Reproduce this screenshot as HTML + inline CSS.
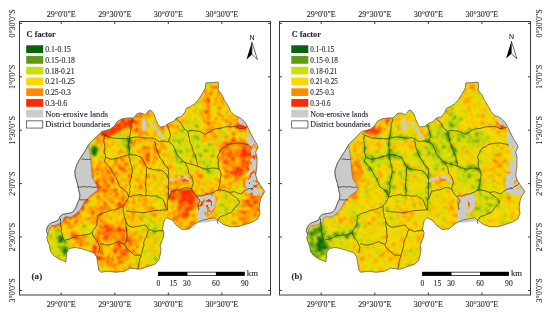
<!DOCTYPE html>
<html><head><meta charset="utf-8"><style>
html,body{margin:0;padding:0;background:#fff;overflow:hidden;}
svg{display:block;}
text{font-family:"Liberation Serif",serif;fill:#2a2a36;stroke:#2a2a36;stroke-width:0.12px;}
.k{stroke:#3a3a3a;stroke-width:1;}
.ax{font-size:7.6px;}
.lt{font-size:8.2px;font-weight:bold;}
.lg{font-size:7.6px;}
.na{font-family:"Liberation Sans",sans-serif;font-size:7px;}
.sc{font-size:7.6px;}
.lab{font-size:8.4px;font-weight:bold;}
</style></head><body>
<svg width="550" height="315" viewBox="0 0 550 315">
<defs>
<filter id="holesa" x="0" y="0" width="550" height="315" filterUnits="userSpaceOnUse" color-interpolation-filters="sRGB">
<feTurbulence type="fractalNoise" baseFrequency="0.28 0.2" numOctaves="2" seed="5"/>
<feColorMatrix type="matrix" values="1 0 0 0 0  1 0 0 0 0  1 0 0 0 0  0 0 0 0 1"/>
<feComponentTransfer><feFuncR type="discrete" tableValues="1 1 1 1 1 1 1 0 0 0 1 1"/><feFuncG type="discrete" tableValues="1 1 1 1 1 1 1 0 0 0 1 1"/><feFuncB type="discrete" tableValues="1 1 1 1 1 1 1 0 0 0 1 1"/></feComponentTransfer>
<feGaussianBlur stdDeviation="0.4"/>
</filter>
<filter id="holesb" x="0" y="0" width="550" height="315" filterUnits="userSpaceOnUse" color-interpolation-filters="sRGB">
<feTurbulence type="fractalNoise" baseFrequency="0.28 0.2" numOctaves="2" seed="9"/>
<feColorMatrix type="matrix" values="1 0 0 0 0  1 0 0 0 0  1 0 0 0 0  0 0 0 0 1"/>
<feComponentTransfer><feFuncR type="discrete" tableValues="1 1 1 1 1 1 1 1 0 0 1 1"/><feFuncG type="discrete" tableValues="1 1 1 1 1 1 1 1 0 0 1 1"/><feFuncB type="discrete" tableValues="1 1 1 1 1 1 1 1 0 0 1 1"/></feComponentTransfer>
<feGaussianBlur stdDeviation="0.4"/>
</filter>
<mask id="mha" maskUnits="userSpaceOnUse" x="0" y="0" width="550" height="315"><rect x="0" y="0" width="550" height="315" fill="#fff" filter="url(#holesa)"/></mask>
<mask id="mhb" maskUnits="userSpaceOnUse" x="0" y="0" width="550" height="315"><rect x="0" y="0" width="550" height="315" fill="#fff" filter="url(#holesb)"/></mask>
<clipPath id="clipfa"><polygon points="205.9,82.9 211.7,82.6 218.1,82.1 218.6,85.3 218.1,90.0 222.0,94.8 224.4,100.4 227.6,105.2 229.0,107.6 230.8,111.5 234.8,115.5 237.9,116.5 241.7,119.0 245.5,122.8 248.1,127.9 250.6,133.0 253.1,138.1 257.0,144.4 258.2,147.0 255.7,152.0 257.0,157.1 257.0,166.0 255.7,174.9 257.2,180.2 260.4,185.2 264.8,191.6 262.3,195.4 260.4,199.2 259.8,203.0 259.1,208.1 260.0,213.3 257.8,218.9 252.2,222.2 245.6,224.4 237.8,226.7 230.0,226.7 223.3,224.4 218.9,221.1 214.4,217.8 208.9,218.9 203.3,220.0 197.8,222.2 194.4,224.4 188.9,228.9 182.2,229.6 176.7,225.6 172.2,220.0 166.7,217.8 164.4,220.0 163.3,224.8 162.5,229.5 164.1,232.7 163.3,237.5 161.7,241.4 160.2,245.4 161.0,249.4 160.2,254.9 158.6,260.5 154.6,264.4 149.0,266.0 145.1,267.6 139.5,269.2 130.7,268.1 124.5,271.2 116.3,272.3 108.0,271.2 100.8,272.3 98.8,270.2 97.7,263.0 96.7,256.8 93.6,252.7 87.4,250.6 81.2,248.6 75.0,247.5 68.9,248.6 66.8,252.7 65.8,262.0 63.7,260.9 58.6,258.9 53.3,255.2 50.5,251.4 49.5,245.7 47.6,241.0 46.7,238.1 47.9,234.3 46.4,231.4 47.1,227.9 48.6,225.0 51.4,222.9 55.7,221.4 58.6,220.0 60.0,216.4 62.9,214.3 67.1,213.6 70.7,212.9 73.6,211.4 75.7,207.9 77.9,202.1 79.3,199.3 80.0,195.0 79.0,191.4 77.5,183.8 75.2,176.2 74.9,170.5 77.1,163.8 81.0,157.1 84.8,151.4 88.6,144.8 89.8,143.3 92.2,141.0 95.4,137.8 99.4,133.8 101.7,131.4 105.7,130.6 110.5,129.0 114.4,125.9 117.6,121.1 120.8,119.5 122.9,118.6 128.6,117.9 132.9,117.9 135.0,116.4 137.1,113.6 140.0,112.9 142.9,113.6 145.0,115.0 146.4,113.6 147.9,111.4 150.0,110.0 152.1,111.4 154.3,115.0 155.7,119.3 157.9,124.3 160.0,127.1 162.9,126.7 165.7,125.7 169.3,122.9 173.6,121.4 175.7,118.6 178.6,117.1 180.8,117.0 182.9,115.0 184.8,112.3 186.3,108.3 190.0,106.8 195.0,103.5 198.5,99.5 201.0,95.5 203.8,90.9 205.4,87.7"/></clipPath>
<clipPath id="clipfb"><polygon points="465.9,82.9 471.7,82.6 478.1,82.1 478.6,85.3 478.1,90.0 482.0,94.8 484.4,100.4 487.6,105.2 489.0,107.6 490.8,111.5 494.8,115.5 497.9,116.5 501.7,119.0 505.5,122.8 508.1,127.9 510.6,133.0 513.1,138.1 517.0,144.4 518.2,147.0 515.7,152.0 517.0,157.1 517.0,166.0 515.7,174.9 517.2,180.2 520.4,185.2 524.8,191.6 522.3,195.4 520.4,199.2 519.8,203.0 519.1,208.1 520.0,213.3 517.8,218.9 512.2,222.2 505.6,224.4 497.8,226.7 490.0,226.7 483.3,224.4 478.9,221.1 474.4,217.8 468.9,218.9 463.3,220.0 457.8,222.2 454.4,224.4 448.9,228.9 442.2,229.6 436.7,225.6 432.2,220.0 426.7,217.8 424.4,220.0 423.3,224.8 422.5,229.5 424.1,232.7 423.3,237.5 421.7,241.4 420.2,245.4 421.0,249.4 420.2,254.9 418.6,260.5 414.6,264.4 409.0,266.0 405.1,267.6 399.5,269.2 390.7,268.1 384.5,271.2 376.3,272.3 368.0,271.2 360.8,272.3 358.8,270.2 357.7,263.0 356.7,256.8 353.6,252.7 347.4,250.6 341.2,248.6 335.0,247.5 328.9,248.6 326.8,252.7 325.8,262.0 323.7,260.9 318.6,258.9 313.3,255.2 310.5,251.4 309.5,245.7 307.6,241.0 306.7,238.1 307.9,234.3 306.4,231.4 307.1,227.9 308.6,225.0 311.4,222.9 315.7,221.4 318.6,220.0 320.0,216.4 322.9,214.3 327.1,213.6 330.7,212.9 333.6,211.4 335.7,207.9 337.9,202.1 339.3,199.3 340.0,195.0 339.0,191.4 337.5,183.8 335.2,176.2 334.9,170.5 337.1,163.8 341.0,157.1 344.8,151.4 348.6,144.8 349.8,143.3 352.2,141.0 355.4,137.8 359.4,133.8 361.7,131.4 365.7,130.6 370.5,129.0 374.4,125.9 377.6,121.1 380.8,119.5 382.9,118.6 388.6,117.9 392.9,117.9 395.0,116.4 397.1,113.6 400.0,112.9 402.9,113.6 405.0,115.0 406.4,113.6 407.9,111.4 410.0,110.0 412.1,111.4 414.3,115.0 415.7,119.3 417.9,124.3 420.0,127.1 422.9,126.7 425.7,125.7 429.3,122.9 433.6,121.4 435.7,118.6 438.6,117.1 440.8,117.0 442.9,115.0 444.8,112.3 446.3,108.3 450.0,106.8 455.0,103.5 458.5,99.5 461.0,95.5 463.8,90.9 465.4,87.7"/></clipPath>
<filter id="fa" x="0" y="0" width="550" height="315" filterUnits="userSpaceOnUse" color-interpolation-filters="sRGB">
<feGaussianBlur in="SourceGraphic" stdDeviation="1.6" result="s"/>
<feTurbulence type="fractalNoise" baseFrequency="0.28" numOctaves="2" seed="3" result="t"/>
<feColorMatrix in="t" type="matrix" values="1 0 0 0 0  1 0 0 0 0  1 0 0 0 0  0 0 0 0 1" result="tn"/>
<feTurbulence type="fractalNoise" baseFrequency="0.06" numOctaves="2" seed="14" result="t2"/>
<feColorMatrix in="t2" type="matrix" values="0 1 0 0 0  0 1 0 0 0  0 1 0 0 0  0 0 0 0 1" result="tn2"/>
<feTurbulence type="fractalNoise" baseFrequency="0.7" numOctaves="1" seed="26" result="t3"/>
<feColorMatrix in="t3" type="matrix" values="0 0 1 0 0  0 0 1 0 0  0 0 1 0 0  0 0 0 0 1" result="tn3"/>
<feComposite in="s" in2="tn" operator="arithmetic" k1="0" k2="1" k3="0.95" k4="-0.475" result="v1"/>
<feComposite in="v1" in2="tn2" operator="arithmetic" k1="0" k2="1" k3="0.45" k4="-0.225" result="v2"/>
<feComposite in="v2" in2="tn3" operator="arithmetic" k1="0" k2="1" k3="0.3" k4="-0.15" result="v"/>
<feComponentTransfer in="v" result="c">
<feFuncR type="discrete" tableValues="0.031 0.031 0.361 0.361 0.361 0.784 0.784 0.784 0.784 1.000 1.000 1.000 1.000 1.000 1.000 1.000 1.000 1.000 1.000 1.000"/>
<feFuncG type="discrete" tableValues="0.392 0.392 0.608 0.608 0.608 0.882 0.882 0.882 0.882 0.843 0.843 0.843 0.843 0.549 0.549 0.549 0.549 0.157 0.157 0.157"/>
<feFuncB type="discrete" tableValues="0.039 0.039 0.071 0.071 0.071 0.039 0.039 0.039 0.039 0.000 0.000 0.000 0.000 0.000 0.000 0.000 0.000 0.000 0.000 0.000"/>
<feFuncA type="discrete" tableValues="1"/>
</feComponentTransfer>
<feGaussianBlur in="c" stdDeviation="0.8"/>
</filter>
<filter id="fb" x="0" y="0" width="550" height="315" filterUnits="userSpaceOnUse" color-interpolation-filters="sRGB">
<feGaussianBlur in="SourceGraphic" stdDeviation="1.6" result="s"/>
<feTurbulence type="fractalNoise" baseFrequency="0.28" numOctaves="2" seed="7" result="t"/>
<feColorMatrix in="t" type="matrix" values="1 0 0 0 0  1 0 0 0 0  1 0 0 0 0  0 0 0 0 1" result="tn"/>
<feTurbulence type="fractalNoise" baseFrequency="0.06" numOctaves="2" seed="18" result="t2"/>
<feColorMatrix in="t2" type="matrix" values="0 1 0 0 0  0 1 0 0 0  0 1 0 0 0  0 0 0 0 1" result="tn2"/>
<feTurbulence type="fractalNoise" baseFrequency="0.7" numOctaves="1" seed="30" result="t3"/>
<feColorMatrix in="t3" type="matrix" values="0 0 1 0 0  0 0 1 0 0  0 0 1 0 0  0 0 0 0 1" result="tn3"/>
<feComposite in="s" in2="tn" operator="arithmetic" k1="0" k2="1" k3="0.85" k4="-0.425" result="v1"/>
<feComposite in="v1" in2="tn2" operator="arithmetic" k1="0" k2="1" k3="0.35" k4="-0.175" result="v2"/>
<feComposite in="v2" in2="tn3" operator="arithmetic" k1="0" k2="1" k3="0.3" k4="-0.15" result="v"/>
<feComponentTransfer in="v" result="c">
<feFuncR type="discrete" tableValues="0.031 0.031 0.361 0.361 0.361 0.784 0.784 0.784 0.784 1.000 1.000 1.000 1.000 1.000 1.000 1.000 1.000 1.000 1.000 1.000"/>
<feFuncG type="discrete" tableValues="0.392 0.392 0.608 0.608 0.608 0.882 0.882 0.882 0.882 0.843 0.843 0.843 0.843 0.549 0.549 0.549 0.549 0.157 0.157 0.157"/>
<feFuncB type="discrete" tableValues="0.039 0.039 0.071 0.071 0.071 0.039 0.039 0.039 0.039 0.000 0.000 0.000 0.000 0.000 0.000 0.000 0.000 0.000 0.000 0.000"/>
<feFuncA type="discrete" tableValues="1"/>
</feComponentTransfer>
<feGaussianBlur in="c" stdDeviation="0.8"/>
</filter>
</defs>
<rect width="550" height="315" fill="#fff"/>
<line x1="61.2" y1="21.5" x2="61.2" y2="24" class="k"/>
<line x1="61.2" y1="295" x2="61.2" y2="292.5" class="k"/>
<text x="46.75" y="16.50" class="ax" textLength="28.9" lengthAdjust="spacingAndGlyphs">29°0'0"E</text>
<text x="46.75" y="307.20" class="ax" textLength="28.9" lengthAdjust="spacingAndGlyphs">29°0'0"E</text>
<line x1="114.8" y1="21.5" x2="114.8" y2="24" class="k"/>
<line x1="114.8" y1="295" x2="114.8" y2="292.5" class="k"/>
<text x="98.15" y="16.50" class="ax" textLength="33.3" lengthAdjust="spacingAndGlyphs">29°30'0"E</text>
<text x="98.15" y="307.20" class="ax" textLength="33.3" lengthAdjust="spacingAndGlyphs">29°30'0"E</text>
<line x1="168.3" y1="21.5" x2="168.3" y2="24" class="k"/>
<line x1="168.3" y1="295" x2="168.3" y2="292.5" class="k"/>
<text x="153.70" y="16.50" class="ax" textLength="29.2" lengthAdjust="spacingAndGlyphs">30°0'0"E</text>
<text x="153.70" y="307.20" class="ax" textLength="29.2" lengthAdjust="spacingAndGlyphs">30°0'0"E</text>
<line x1="221.9" y1="21.5" x2="221.9" y2="24" class="k"/>
<line x1="221.9" y1="295" x2="221.9" y2="292.5" class="k"/>
<text x="205.60" y="16.50" class="ax" textLength="32.6" lengthAdjust="spacingAndGlyphs">30°30'0"E</text>
<text x="205.60" y="307.20" class="ax" textLength="32.6" lengthAdjust="spacingAndGlyphs">30°30'0"E</text>
<line x1="270.5" y1="23.4" x2="268" y2="23.4" class="k"/>
<line x1="19.5" y1="23.4" x2="22" y2="23.4" class="k"/>
<text transform="translate(14.6,37.6) rotate(-90)" class="ax" textLength="28.4" lengthAdjust="spacingAndGlyphs">0°30'0"S</text>
<line x1="270.5" y1="76.8" x2="268" y2="76.8" class="k"/>
<line x1="19.5" y1="76.8" x2="22" y2="76.8" class="k"/>
<text transform="translate(14.6,89.0) rotate(-90)" class="ax" textLength="24.3" lengthAdjust="spacingAndGlyphs">1°0'0"S</text>
<line x1="270.5" y1="130.2" x2="268" y2="130.2" class="k"/>
<line x1="19.5" y1="130.2" x2="22" y2="130.2" class="k"/>
<text transform="translate(14.6,144.4) rotate(-90)" class="ax" textLength="28.4" lengthAdjust="spacingAndGlyphs">1°30'0"S</text>
<line x1="270.5" y1="183.6" x2="268" y2="183.6" class="k"/>
<line x1="19.5" y1="183.6" x2="22" y2="183.6" class="k"/>
<text transform="translate(14.6,195.8) rotate(-90)" class="ax" textLength="24.3" lengthAdjust="spacingAndGlyphs">2°0'0"S</text>
<line x1="270.5" y1="237.0" x2="268" y2="237.0" class="k"/>
<line x1="19.5" y1="237.0" x2="22" y2="237.0" class="k"/>
<text transform="translate(14.6,251.2) rotate(-90)" class="ax" textLength="28.4" lengthAdjust="spacingAndGlyphs">2°30'0"S</text>
<line x1="270.5" y1="290.4" x2="268" y2="290.4" class="k"/>
<line x1="19.5" y1="290.4" x2="22" y2="290.4" class="k"/>
<text transform="translate(14.6,302.5) rotate(-90)" class="ax" textLength="24.3" lengthAdjust="spacingAndGlyphs">3°0'0"S</text>
<g clip-path="url(#clipfa)"><g filter="url(#fa)">
<rect x="40" y="75" width="230" height="205" fill="rgb(147,147,147)"/>
<ellipse cx="208" cy="95" rx="4" ry="10" fill="rgb(178,178,178)"/>
<ellipse cx="206" cy="117" rx="4" ry="11" fill="rgb(178,178,178)"/>
<ellipse cx="221" cy="110" rx="4" ry="8" fill="rgb(178,178,178)"/>
<ellipse cx="192" cy="118" rx="8" ry="9" fill="rgb(102,102,102)"/>
<ellipse cx="199" cy="106" rx="4" ry="6" fill="rgb(112,112,112)"/>
<polygon points="222.0,140.0 240.0,136.0 252.0,142.0 256.0,160.0 254.0,178.0 236.0,180.0 224.0,172.0 221.0,155.0" fill="rgb(184,184,184)"/>
<ellipse cx="244" cy="152" rx="5" ry="13" fill="rgb(219,219,219)"/>
<ellipse cx="238" cy="170" rx="5" ry="7" fill="rgb(214,214,214)"/>
<ellipse cx="233" cy="142" rx="4" ry="4" fill="rgb(219,219,219)"/>
<polygon points="99.0,134.0 104.0,130.0 110.0,127.0 117.6,121.1 120.8,119.5 128.6,117.9 133.0,118.0 136.0,121.0 134.0,125.0 126.0,129.0 118.0,134.0 110.0,137.0 104.0,139.0" fill="rgb(255,255,255)"/>
<ellipse cx="140" cy="128" rx="10" ry="8" fill="rgb(168,168,168)"/>
<ellipse cx="150" cy="155" rx="10" ry="12" fill="rgb(168,168,168)"/>
<ellipse cx="188" cy="148" rx="16" ry="26" fill="rgb(102,102,102)"/>
<ellipse cx="172" cy="135" rx="6" ry="10" fill="rgb(128,128,128)"/>
<ellipse cx="209" cy="160" rx="9" ry="18" fill="rgb(107,107,107)"/>
<ellipse cx="207" cy="203" rx="9" ry="10" fill="rgb(219,219,219)"/>
<ellipse cx="252" cy="182" rx="6" ry="10" fill="rgb(219,219,219)"/>
<ellipse cx="242" cy="124" rx="6" ry="6" fill="rgb(219,219,219)"/>
<ellipse cx="252" cy="152" rx="4" ry="12" fill="rgb(219,219,219)"/>
<ellipse cx="180" cy="179" rx="9" ry="3" fill="rgb(219,219,219)"/>
<ellipse cx="120" cy="140" rx="9" ry="8" fill="rgb(112,112,112)"/>
<ellipse cx="94" cy="151" rx="4.5" ry="6" fill="rgb(0,0,0)"/>
<ellipse cx="187" cy="202" rx="10" ry="12" fill="rgb(240,240,240)"/>
<ellipse cx="180" cy="215" rx="8" ry="9" fill="rgb(209,209,209)"/>
<ellipse cx="175" cy="197" rx="6" ry="6" fill="rgb(204,204,204)"/>
<ellipse cx="228" cy="203" rx="12" ry="10" fill="rgb(112,112,112)"/>
<ellipse cx="250" cy="205" rx="10" ry="15" fill="rgb(184,184,184)"/>
<ellipse cx="113" cy="245" rx="20" ry="22" fill="rgb(189,189,189)"/>
<ellipse cx="150" cy="240" rx="12" ry="25" fill="rgb(122,122,122)"/>
<ellipse cx="58" cy="245" rx="13" ry="16" fill="rgb(97,97,97)"/>
<ellipse cx="60" cy="240" rx="3.5" ry="6" fill="rgb(38,38,38)"/>
<ellipse cx="64" cy="252" rx="3" ry="5" fill="rgb(46,46,46)"/>
<ellipse cx="85" cy="232" rx="10" ry="8" fill="rgb(128,128,128)"/>
<ellipse cx="112" cy="182" rx="18" ry="30" fill="rgb(168,168,168)"/>
<ellipse cx="160" cy="200" rx="7" ry="12" fill="rgb(128,128,128)"/>
<ellipse cx="100" cy="215" rx="12" ry="10" fill="rgb(178,178,178)"/>
<ellipse cx="80" cy="240" rx="8" ry="6" fill="rgb(184,184,184)"/>
<path d="M129.5,137.0 L128.7,146.0 L129.0,154.0" fill="none" stroke="rgb(0,0,0)" stroke-width="4.0" stroke-linejoin="round"/>
<path d="M90.5,157.0 L91.4,168.6 L92.4,178.0 L97.1,185.7 L97.6,190.2 L90.6,195.5 L87.5,198.8 L84.3,202.0 L82.4,205.8 L80.5,209.6 L78.0,212.1 L74.2,215.3 L70.4,217.2 L65.9,216.6 L64.0,217.8 L62.8,221.6 L59.6,223.6 L56.4,224.8 L53.9,225.5 L51.3,225.5 L49.4,227.4" fill="none" stroke="rgb(255,255,255)" stroke-width="3.0" stroke-linejoin="round"/>
</g></g>
<g fill="#cacaca">
<polygon points="47.9,234.3 46.4,231.4 47.1,227.9 48.6,225.0 51.4,222.9 55.7,221.4 58.6,220.0 60.0,216.4 62.9,214.3 67.1,213.6 70.7,212.9 73.6,211.4 75.7,207.9 77.9,202.1 79.3,199.3 80.0,195.0 79.0,191.4 77.5,183.8 75.2,176.2 74.9,170.5 77.1,163.8 81.0,157.1 84.8,151.4 88.6,144.8 90.5,157.0 91.4,168.6 92.4,178.0 97.1,185.7 97.6,190.2 90.6,195.5 87.5,198.8 84.3,202.0 82.4,205.8 80.5,209.6 78.0,212.1 74.2,215.3 70.4,217.2 65.9,216.6 64.0,217.8 62.8,221.6 59.6,223.6 56.4,224.8 53.9,225.5 51.3,225.5 49.4,227.4 48.8,229.9" stroke="#707070" stroke-width="0.6"/>
<g mask="url(#mha)">
<polygon points="236.9,118.7 239.3,124.3 242.5,125.0 246.4,126.7 247.2,132.2 246.4,137.0 247.2,141.7 248.8,144.9 250.4,149.7 251.2,154.8 249.6,162.7 248.0,170.6 246.4,175.4 245.6,181.7 245.0,188.0 250.0,186.5 256.8,179.0 255.7,174.9 257.0,166.0 257.0,157.1 255.7,152.0 258.2,147.0 257.0,144.4 253.1,138.1 250.6,133.0 248.1,127.9 245.5,122.8 241.7,119.0 237.9,116.5"/>
<polygon points="197.5,196.0 206.0,194.5 214.0,194.0 216.0,200.0 214.0,208.0 210.0,214.0 204.0,212.0 199.0,206.0"/>
<polygon points="245.5,181.0 252.0,180.0 258.0,183.5 263.5,191.0 261.0,196.0 252.0,195.5 246.0,191.0"/>
<path d="M168,181 L176,178 L186,177 L190,181" fill="none" stroke="#cacaca" stroke-width="3" stroke-linecap="round"/>
</g>
<polygon points="196.4,207.8 201.5,206.5 204.0,210.3 205.3,215.4 208.5,219.5 214.0,218.2 218.0,220.5 212.0,221.5 205.3,222.5 200.2,222.8 197.7,220.5 197.7,215.4 197.1,211.6"/>
<polygon points="142.0,119.0 145.0,118.8 146.5,123.0 146.5,128.0 145.5,131.5 143.0,131.0 141.5,127.0 141.5,122.0"/>
<path d="M151,122.5 L157,130 L163.5,138.5" fill="none" stroke="#cacaca" stroke-width="2.4" stroke-linecap="round"/>
</g>
<g fill="none" stroke="#3c3a1c" stroke-width="0.85" stroke-linejoin="round" opacity="0.9">
<path d="M102.0,133.4 L103.8,134.8 L106.0,135.5 L108.0,136.6 L110.3,137.2 L112.4,138.1 L115.1,138.0 L117.7,138.4 L120.4,138.6 L122.9,138.5 L125.5,138.9 L128.0,138.6 L132.0,137.6 L135.1,137.1 L138.2,137.0 L140.6,137.3 L142.9,137.8 L145.3,138.0 L148.5,138.2 L151.7,137.6 L155.5,139.3 L157.4,140.6 L159.3,141.8 L162.1,141.0 L164.9,141.2 L167.6,141.9"/>
<path d="M132.6,118.5 L132.6,120.9 L131.4,123.2 L131.1,125.6 L131.0,128.0 L130.9,130.4 L130.3,132.8 L129.9,135.2 L129.5,137.6 L129.1,140.4 L128.7,143.2 L128.7,146.0 L129.2,148.9 L129.4,151.7 L129.0,154.6 L129.1,157.2 L130.1,159.6 L130.2,162.2 L131.0,164.7 L132.0,167.0 L132.0,169.6 L132.4,172.0 L131.6,174.4 L131.5,177.1 L130.6,179.5 L129.9,181.8 L129.7,184.3 L130.4,186.8 L129.6,189.1 L129.8,191.7 L129.0,194.2 L128.7,196.7"/>
<path d="M104.8,135.3 L104.0,137.7 L103.8,140.4 L104.0,143.0 L104.8,145.6 L104.9,148.9 L104.0,152.0 L105.2,154.2 L105.6,156.7 L107.8,158.2 L110.4,159.1 L113.6,159.0 L116.7,158.3 L119.4,157.7 L122.0,156.6 L124.7,156.0 L127.1,155.3 L129.4,154.4 L132.6,154.9 L135.8,155.2 L138.4,156.2 L141.0,157.0 L142.5,158.8 L143.3,161.0 L144.5,162.9 L145.3,165.1 L146.7,167.0 L148.8,168.5 L151.4,169.0 L153.6,169.9 L156.0,169.8 L158.3,170.1 L160.6,170.3 L162.9,171.0 L164.7,172.6 L166.2,174.5 L167.2,176.7 L168.6,178.6"/>
<path d="M154.4,141.0 L155.3,143.5 L155.6,146.1 L156.3,148.6 L157.4,150.9 L158.1,153.4 L159.1,155.9 L160.2,158.2 L161.9,159.8 L163.2,161.7 L164.0,163.9 L165.7,166.2 L168.0,168.0 L168.4,170.6 L168.6,173.3 L167.9,176.0 L168.6,178.6 L168.6,181.5 L168.6,184.4 L168.2,186.8 L168.6,189.1 L168.4,191.5 L168.6,193.8 L168.5,196.8 L167.6,199.6 L167.5,202.2 L167.2,204.8 L167.6,207.4 L167.6,210.0"/>
<path d="M105.6,156.7 L105.1,159.2 L104.0,161.5 L105.9,162.8 L107.3,164.6 L108.8,166.3 L110.3,168.0 L111.6,169.8 L112.4,172.0 L113.9,173.9 L114.8,176.3 L116.5,178.0 L117.2,180.6 L118.5,183.0 L119.0,185.2 L120.1,187.2 L122.2,188.2 L123.9,189.8 L125.8,191.0 L127.5,193.7 L128.7,196.7"/>
<path d="M146.7,167.0 L146.5,169.7 L146.3,172.3 L146.5,175.0 L146.0,177.6 L145.7,180.2 L145.8,182.8 L145.4,185.4 L145.7,188.0 L146.3,190.5 L145.9,193.1 L146.0,195.7"/>
<path d="M176.2,118.1 L177.6,119.9 L179.1,121.6 L181.0,122.9 L182.4,125.7 L183.8,128.6 L185.9,129.8 L187.6,131.4 L190.4,130.4 L193.3,130.5 L195.5,131.0 L197.8,131.1 L200.0,131.4 L202.7,133.1 L205.7,134.3 L207.5,132.9 L209.7,132.0 L211.4,130.5 L214.2,129.3 L217.1,128.6 L219.6,128.5 L221.9,127.9 L224.3,127.1 L226.7,126.7 L229.1,126.7 L231.4,126.9 L233.8,126.4 L236.2,126.7 L240.0,128.6 L243.3,128.1 L246.5,127.5"/>
<path d="M187.6,131.4 L188.3,133.8 L188.6,136.2 L189.6,138.6 L189.7,141.3 L190.5,143.8 L191.9,146.2 L192.3,148.9 L193.3,151.4 L194.3,153.5 L195.6,155.6 L196.0,158.0 L196.4,160.7 L197.3,163.4 L197.2,166.2"/>
<path d="M219.2,169.1 L218.4,166.3 L218.2,163.4 L218.7,160.6 L217.7,157.8 L218.1,155.0 L219.5,153.3 L220.1,151.1 L221.5,149.3 L222.9,147.6 L225.7,146.8 L227.8,144.8 L230.5,143.8 L232.9,143.7 L235.2,143.3 L237.6,143.1 L240.0,142.9 L242.8,143.6 L245.7,144.0 L248.5,145.0"/>
<path d="M167.0,124.0 L167.6,125.7 L168.4,128.3 L169.2,130.9 L170.2,133.5 L170.5,136.2 L169.2,138.9 L168.6,141.9 L171.3,143.4 L173.3,145.7 L174.4,148.4 L175.5,151.0 L176.4,153.7 L178.1,156.0 L180.4,158.0 L181.9,160.5 L184.8,162.4 L187.2,163.2 L189.6,164.0 L192.1,164.1 L194.4,165.3 L197.2,166.2 L199.4,166.8 L201.4,167.9 L203.7,168.3 L205.8,169.1 L208.4,169.0 L210.8,168.1 L213.4,168.1 L216.3,168.3 L219.2,169.1 L220.6,171.8 L221.1,174.8 L220.8,177.3 L220.0,179.8 L220.1,182.4 L219.6,184.9 L218.9,187.3 L218.8,189.9"/>
<path d="M184.8,162.4 L186.2,164.8 L187.7,167.2 L188.2,170.0 L188.6,172.9 L190.0,174.9 L191.5,176.7 L192.8,179.8 L193.4,183.0 L192.2,186.0 L191.6,189.1"/>
<path d="M218.8,189.9 L221.7,190.2 L224.6,190.7 L227.0,191.6 L229.5,192.4 L231.7,194.8 L234.5,196.5 L236.6,198.1 L238.6,199.8 L239.4,203.1 L237.8,204.8 L236.1,206.4 L234.5,208.1 L233.1,210.4 L231.2,212.2 L229.0,213.3 L226.7,214.3 L224.6,215.5 L222.0,216.0 L219.6,217.1 L218.7,219.4 L217.1,221.3 L218.0,223.7"/>
<path d="M229.5,192.4 L232.0,192.0 L234.5,191.6 L236.6,192.6 L238.8,193.4 L241.1,194.0 L243.3,191.6 L246.0,189.9 L248.1,188.8 L250.4,188.7 L252.6,188.3 L254.6,186.4 L257.2,185.2 L259.2,183.3"/>
<path d="M168.6,199.6 L169.1,197.4 L170.2,195.4 L171.0,193.2 L171.5,191.0 L174.4,191.0 L177.1,189.9 L180.0,189.9 L182.1,188.8 L184.3,187.9 L186.6,187.4 L189.2,188.0 L191.6,189.1 L192.6,191.3 L194.0,193.2 L196.5,196.5 L198.7,195.8 L200.9,196.0 L203.1,195.7 L205.2,194.8 L207.4,194.3 L209.7,194.0 L211.9,192.8 L214.3,192.1 L216.3,190.7 L218.8,189.9"/>
<path d="M196.5,196.5 L198.6,198.5 L200.0,201.0 L198.8,203.4 L198.0,206.0 L199.0,210.0"/>
<path d="M128.7,196.7 L131.2,196.7 L133.3,195.2 L135.8,195.5 L138.1,194.8 L140.8,194.7 L143.3,195.9 L146.0,195.7 L148.2,195.2 L150.4,196.1 L152.7,195.9 L154.9,196.1 L157.1,195.7 L158.7,197.4 L161.1,198.0 L162.9,199.5 L164.1,202.2 L165.0,205.0 L166.1,207.6 L167.6,210.0"/>
<path d="M128.7,196.7 L127.4,199.6 L125.8,202.4 L124.4,204.4 L122.9,206.3 L120.7,207.3 L118.5,208.2 L116.3,209.1 L113.8,209.8 L111.1,210.2 L108.6,211.0 L106.2,212.2 L103.5,212.8 L101.0,213.9 L97.2,215.8"/>
<path d="M122.9,206.3 L123.2,208.8 L123.2,211.4 L123.9,213.9 L124.0,216.6 L125.4,218.9 L125.8,221.5 L125.8,224.4 L126.2,227.2 L126.8,230.0 L126.6,232.8 L127.2,235.5 L126.7,238.3 L126.7,241.2 L125.6,243.9"/>
<path d="M125.8,211.0 L128.4,211.0 L130.8,211.8 L133.4,212.0 L135.8,212.0 L138.2,212.1 L140.6,212.7 L143.0,212.9 L145.4,212.4 L147.7,211.9 L150.1,211.4 L152.5,211.0 L154.9,210.5 L157.3,210.3 L159.7,210.5 L162.1,210.1 L164.8,209.9 L167.6,210.0"/>
<path d="M125.8,221.5 L127.8,225.0 L129.9,226.3 L132.2,227.2 L134.5,227.1 L136.7,226.5 L138.9,226.1 L141.1,225.7 L143.3,225.3 L145.6,225.0 L146.8,227.5 L148.9,229.4 L151.7,230.3 L154.4,231.7 L156.6,231.0 L158.9,230.9 L161.2,230.6 L163.5,230.6"/>
<path d="M148.9,229.4 L147.7,231.5 L147.2,233.8 L146.7,236.1 L145.3,238.2 L144.4,240.6 L143.6,242.7 L143.9,245.0 L143.3,247.2 L142.6,249.4 L142.2,251.7 L141.2,253.8 L141.1,256.1 L140.0,258.2 L139.6,260.5 L138.9,262.8 L138.9,265.1 L138.3,267.2 L137.8,269.4"/>
<path d="M100.0,243.9 L102.3,243.9 L104.4,244.8 L106.7,245.0 L108.9,244.8 L111.1,244.2 L113.3,243.9 L116.0,242.5 L118.9,241.7 L121.5,243.1 L124.4,243.9 L125.8,246.8 L127.8,249.4 L130.0,251.3 L132.2,253.1 L134.4,255.0 L136.7,255.1 L139.0,255.2 L141.1,256.1"/>
<path d="M97.2,215.8 L97.8,218.3 L96.8,220.4 L97.1,222.8 L96.7,225.1 L95.6,227.2 L93.4,229.7 L92.2,232.8 L89.7,233.9 L87.1,234.7 L84.4,235.0 L82.2,235.1 L80.0,235.7 L77.7,235.4 L75.6,236.1 L73.5,237.5 L71.1,238.3"/>
<path d="M92.2,232.8 L92.9,235.0 L94.0,237.0 L95.2,239.0 L97.1,240.6 L97.8,242.8 L98.8,245.0 L100.0,247.2 L99.3,250.1 L98.5,253.0"/>
<path d="M60.5,218.5 L60.5,221.4 L60.5,224.3 L61.1,227.2 L61.7,229.4 L61.1,231.7 L62.3,233.8 L62.2,236.1 L63.1,238.4 L64.4,240.6 L66.5,239.4 L69.0,239.3 L71.1,238.3"/>
<path d="M81.5,159.1 L83.8,159.0 L86.2,159.6 L88.5,159.5 L90.8,159.1"/>
<path d="M77.6,187.0 L80.0,187.3 L82.4,186.7 L84.9,186.7 L87.3,187.1 L89.7,186.5 L92.2,187.3 L94.6,187.3 L97.0,187.0"/>
<path d="M79.3,199.7 L82.2,199.9 L85.1,199.9 L88.0,199.7"/>
</g>
<polygon points="205.9,82.9 211.7,82.6 218.1,82.1 218.6,85.3 218.1,90.0 222.0,94.8 224.4,100.4 227.6,105.2 229.0,107.6 230.8,111.5 234.8,115.5 237.9,116.5 241.7,119.0 245.5,122.8 248.1,127.9 250.6,133.0 253.1,138.1 257.0,144.4 258.2,147.0 255.7,152.0 257.0,157.1 257.0,166.0 255.7,174.9 257.2,180.2 260.4,185.2 264.8,191.6 262.3,195.4 260.4,199.2 259.8,203.0 259.1,208.1 260.0,213.3 257.8,218.9 252.2,222.2 245.6,224.4 237.8,226.7 230.0,226.7 223.3,224.4 218.9,221.1 214.4,217.8 208.9,218.9 203.3,220.0 197.8,222.2 194.4,224.4 188.9,228.9 182.2,229.6 176.7,225.6 172.2,220.0 166.7,217.8 164.4,220.0 163.3,224.8 162.5,229.5 164.1,232.7 163.3,237.5 161.7,241.4 160.2,245.4 161.0,249.4 160.2,254.9 158.6,260.5 154.6,264.4 149.0,266.0 145.1,267.6 139.5,269.2 130.7,268.1 124.5,271.2 116.3,272.3 108.0,271.2 100.8,272.3 98.8,270.2 97.7,263.0 96.7,256.8 93.6,252.7 87.4,250.6 81.2,248.6 75.0,247.5 68.9,248.6 66.8,252.7 65.8,262.0 63.7,260.9 58.6,258.9 53.3,255.2 50.5,251.4 49.5,245.7 47.6,241.0 46.7,238.1 47.9,234.3 46.4,231.4 47.1,227.9 48.6,225.0 51.4,222.9 55.7,221.4 58.6,220.0 60.0,216.4 62.9,214.3 67.1,213.6 70.7,212.9 73.6,211.4 75.7,207.9 77.9,202.1 79.3,199.3 80.0,195.0 79.0,191.4 77.5,183.8 75.2,176.2 74.9,170.5 77.1,163.8 81.0,157.1 84.8,151.4 88.6,144.8 89.8,143.3 92.2,141.0 95.4,137.8 99.4,133.8 101.7,131.4 105.7,130.6 110.5,129.0 114.4,125.9 117.6,121.1 120.8,119.5 122.9,118.6 128.6,117.9 132.9,117.9 135.0,116.4 137.1,113.6 140.0,112.9 142.9,113.6 145.0,115.0 146.4,113.6 147.9,111.4 150.0,110.0 152.1,111.4 154.3,115.0 155.7,119.3 157.9,124.3 160.0,127.1 162.9,126.7 165.7,125.7 169.3,122.9 173.6,121.4 175.7,118.6 178.6,117.1 180.8,117.0 182.9,115.0 184.8,112.3 186.3,108.3 190.0,106.8 195.0,103.5 198.5,99.5 201.0,95.5 203.8,90.9 205.4,87.7" fill="none" stroke="#505050" stroke-width="0.7"/>
<rect x="19.5" y="21.5" width="251" height="273.5" fill="none" class="k"/>
<text x="26.60" y="37.30" class="lt" textLength="29.2" lengthAdjust="spacingAndGlyphs">C factor</text>
<rect x="26.2" y="45.30" width="17" height="7.7" fill="#08640a"/>
<text x="45.20" y="52.10" class="lg" textLength="25.8" lengthAdjust="spacingAndGlyphs">0.1-0.15</text>
<rect x="26.2" y="56.05" width="17" height="7.7" fill="#5c9b12"/>
<text x="45.20" y="62.85" class="lg" textLength="29.8" lengthAdjust="spacingAndGlyphs">0.15-0.18</text>
<rect x="26.2" y="66.80" width="17" height="7.7" fill="#c8e10a"/>
<text x="45.20" y="73.60" class="lg" textLength="29.3" lengthAdjust="spacingAndGlyphs">0.18-0.21</text>
<rect x="26.2" y="77.55" width="17" height="7.7" fill="#ffd700"/>
<text x="45.20" y="84.35" class="lg" textLength="29.8" lengthAdjust="spacingAndGlyphs">0.21-0.25</text>
<rect x="26.2" y="88.30" width="17" height="7.7" fill="#ff8c00"/>
<text x="45.20" y="95.10" class="lg" textLength="25.8" lengthAdjust="spacingAndGlyphs">0.25-0.3</text>
<rect x="26.2" y="99.05" width="17" height="7.7" fill="#ff2800"/>
<text x="45.20" y="105.85" class="lg" textLength="22.0" lengthAdjust="spacingAndGlyphs">0.3-0.6</text>
<rect x="26.2" y="109.80" width="17" height="7.7" fill="#cbcbcb"/>
<text x="45.20" y="116.60" class="lg" textLength="62.9" lengthAdjust="spacingAndGlyphs">Non-erosive lands</text>
<rect x="26.6" y="120.85" width="16.2" height="7.2" fill="#fff" stroke="#333" stroke-width="0.7"/>
<text x="45.20" y="127.35" class="lg" textLength="65.2" lengthAdjust="spacingAndGlyphs">District boundaries</text>
<text x="252" y="40" text-anchor="middle" class="na">N</text>
<path d="M251.9,42.1 L246.5,59.4 L251.9,54.5 Z" fill="#000"/>
<path d="M251.9,42.1 L257.4,59.5 L251.9,54.5 Z" fill="#fff" stroke="#000" stroke-width="0.6"/>
<rect x="158" y="271.8" width="86.8" height="4.1" fill="#000"/>
<rect x="187.4" y="272.5" width="28.5" height="2.7" fill="#fff"/>
<text x="158.3" y="286.3" text-anchor="middle" class="sc">0</text>
<text x="173.3" y="286.3" text-anchor="middle" class="sc">15</text>
<text x="186.9" y="286.3" text-anchor="middle" class="sc">30</text>
<text x="215.9" y="286.3" text-anchor="middle" class="sc">60</text>
<text x="244.8" y="286.3" text-anchor="middle" class="sc">90</text>
<text x="246.80" y="276.00" class="sc" textLength="11.2" lengthAdjust="spacingAndGlyphs">km</text>
<text x="31.60" y="279.30" class="lab" textLength="10.6" lengthAdjust="spacingAndGlyphs">(a)</text>
<line x1="321.2" y1="21.5" x2="321.2" y2="24" class="k"/>
<line x1="321.2" y1="295" x2="321.2" y2="292.5" class="k"/>
<text x="306.75" y="16.50" class="ax" textLength="28.9" lengthAdjust="spacingAndGlyphs">29°0'0"E</text>
<text x="306.75" y="307.20" class="ax" textLength="28.9" lengthAdjust="spacingAndGlyphs">29°0'0"E</text>
<line x1="374.8" y1="21.5" x2="374.8" y2="24" class="k"/>
<line x1="374.8" y1="295" x2="374.8" y2="292.5" class="k"/>
<text x="358.15" y="16.50" class="ax" textLength="33.3" lengthAdjust="spacingAndGlyphs">29°30'0"E</text>
<text x="358.15" y="307.20" class="ax" textLength="33.3" lengthAdjust="spacingAndGlyphs">29°30'0"E</text>
<line x1="428.3" y1="21.5" x2="428.3" y2="24" class="k"/>
<line x1="428.3" y1="295" x2="428.3" y2="292.5" class="k"/>
<text x="413.70" y="16.50" class="ax" textLength="29.2" lengthAdjust="spacingAndGlyphs">30°0'0"E</text>
<text x="413.70" y="307.20" class="ax" textLength="29.2" lengthAdjust="spacingAndGlyphs">30°0'0"E</text>
<line x1="481.9" y1="21.5" x2="481.9" y2="24" class="k"/>
<line x1="481.9" y1="295" x2="481.9" y2="292.5" class="k"/>
<text x="465.60" y="16.50" class="ax" textLength="32.6" lengthAdjust="spacingAndGlyphs">30°30'0"E</text>
<text x="465.60" y="307.20" class="ax" textLength="32.6" lengthAdjust="spacingAndGlyphs">30°30'0"E</text>
<line x1="530.5" y1="23.4" x2="528" y2="23.4" class="k"/>
<line x1="279.5" y1="23.4" x2="282" y2="23.4" class="k"/>
<text transform="translate(542.0,37.6) rotate(-90)" class="ax" textLength="28.4" lengthAdjust="spacingAndGlyphs">0°30'0"S</text>
<line x1="530.5" y1="76.8" x2="528" y2="76.8" class="k"/>
<line x1="279.5" y1="76.8" x2="282" y2="76.8" class="k"/>
<text transform="translate(542.0,89.0) rotate(-90)" class="ax" textLength="24.3" lengthAdjust="spacingAndGlyphs">1°0'0"S</text>
<line x1="530.5" y1="130.2" x2="528" y2="130.2" class="k"/>
<line x1="279.5" y1="130.2" x2="282" y2="130.2" class="k"/>
<text transform="translate(542.0,144.4) rotate(-90)" class="ax" textLength="28.4" lengthAdjust="spacingAndGlyphs">1°30'0"S</text>
<line x1="530.5" y1="183.6" x2="528" y2="183.6" class="k"/>
<line x1="279.5" y1="183.6" x2="282" y2="183.6" class="k"/>
<text transform="translate(542.0,195.8) rotate(-90)" class="ax" textLength="24.3" lengthAdjust="spacingAndGlyphs">2°0'0"S</text>
<line x1="530.5" y1="237.0" x2="528" y2="237.0" class="k"/>
<line x1="279.5" y1="237.0" x2="282" y2="237.0" class="k"/>
<text transform="translate(542.0,251.2) rotate(-90)" class="ax" textLength="28.4" lengthAdjust="spacingAndGlyphs">2°30'0"S</text>
<line x1="530.5" y1="290.4" x2="528" y2="290.4" class="k"/>
<line x1="279.5" y1="290.4" x2="282" y2="290.4" class="k"/>
<text transform="translate(542.0,302.5) rotate(-90)" class="ax" textLength="24.3" lengthAdjust="spacingAndGlyphs">3°0'0"S</text>
<g clip-path="url(#clipfb)"><g filter="url(#fb)">
<rect x="300" y="75" width="230" height="205" fill="rgb(128,128,128)"/>
<ellipse cx="472" cy="88" rx="5" ry="5" fill="rgb(173,173,173)"/>
<ellipse cx="470" cy="104" rx="5" ry="9" fill="rgb(168,168,168)"/>
<ellipse cx="482" cy="112" rx="4" ry="6" fill="rgb(153,153,153)"/>
<ellipse cx="455" cy="120" rx="9" ry="10" fill="rgb(92,92,92)"/>
<ellipse cx="472" cy="137" rx="16" ry="9" fill="rgb(87,87,87)"/>
<ellipse cx="498" cy="128" rx="7" ry="6" fill="rgb(163,163,163)"/>
<ellipse cx="500" cy="165" rx="7" ry="14" fill="rgb(158,158,158)"/>
<ellipse cx="467" cy="182" rx="12" ry="10" fill="rgb(102,102,102)"/>
<ellipse cx="488" cy="204" rx="12" ry="11" fill="rgb(92,92,92)"/>
<ellipse cx="512" cy="205" rx="6" ry="14" fill="rgb(148,148,148)"/>
<ellipse cx="442" cy="148" rx="16" ry="24" fill="rgb(97,97,97)"/>
<ellipse cx="410" cy="140" rx="8" ry="5" fill="rgb(163,163,163)"/>
<polygon points="359.0,134.0 364.0,130.0 370.0,127.0 377.6,121.1 380.8,119.5 388.6,117.9 393.0,118.0 396.0,121.0 394.0,125.0 386.0,129.0 378.0,134.0 370.0,137.0 364.0,139.0" fill="rgb(237,237,237)"/>
<ellipse cx="382" cy="124" rx="10" ry="4" fill="rgb(163,163,163)"/>
<ellipse cx="400" cy="235" rx="22" ry="30" fill="rgb(133,133,133)"/>
<ellipse cx="318" cy="242" rx="13" ry="17" fill="rgb(56,56,56)"/>
<ellipse cx="322" cy="245" rx="5" ry="9" fill="rgb(15,15,15)"/>
<ellipse cx="345" cy="232" rx="12" ry="8" fill="rgb(97,97,97)"/>
<ellipse cx="450" cy="207" rx="5" ry="8" fill="rgb(168,168,168)"/>
<ellipse cx="467" cy="203" rx="9" ry="10" fill="rgb(189,189,189)"/>
<ellipse cx="512" cy="182" rx="6" ry="10" fill="rgb(184,184,184)"/>
<ellipse cx="502" cy="124" rx="6" ry="6" fill="rgb(178,178,178)"/>
<ellipse cx="440" cy="179" rx="9" ry="3" fill="rgb(184,184,184)"/>
<ellipse cx="357" cy="170" rx="5" ry="14" fill="rgb(163,163,163)"/>
<ellipse cx="360" cy="148" rx="6" ry="8" fill="rgb(158,158,158)"/>
<path d="M350.5,157.0 L351.4,168.6 L352.4,178.0 L357.1,185.7 L357.6,190.2 L350.6,195.5 L347.5,198.8 L344.3,202.0 L342.4,205.8 L340.5,209.6 L338.0,212.1 L334.2,215.3 L330.4,217.2 L325.9,216.6 L324.0,217.8 L322.8,221.6 L319.6,223.6 L316.4,224.8 L313.9,225.5 L311.3,225.5 L309.4,227.4" fill="none" stroke="rgb(217,217,217)" stroke-width="2.6" stroke-linejoin="round"/>
<g fill="none" stroke="rgb(20,20,20)" stroke-width="2.3" stroke-linejoin="round">
<path d="M362.0,133.4 L366.0,135.5 L372.4,138.1 L380.4,138.6 L388.0,138.6 L392.0,137.6 L398.2,137.0 L405.3,138.0 L411.7,137.6 L415.5,139.3 L419.3,141.8 L422.1,141.0 L427.6,141.9"/>
<path d="M392.6,118.5 L391.0,128.0 L389.5,137.6 L388.7,146.0 L389.0,154.6 L391.0,164.7 L392.4,172.0 L390.6,179.5 L389.6,189.1 L388.7,196.7"/>
<path d="M364.8,135.3 L364.0,137.7 L364.8,145.6 L364.0,152.0 L365.6,156.7 L370.4,159.1 L376.7,158.3 L384.7,156.0 L389.4,154.4 L395.8,155.2 L401.0,157.0 L406.7,167.0 L411.4,169.0 L422.9,171.0 L428.6,178.6"/>
<path d="M414.4,141.0 L416.3,148.6 L420.2,158.2 L424.0,163.9 L428.0,168.0 L428.6,178.6 L428.6,184.4 L428.6,193.8 L427.6,199.6 L427.6,210.0"/>
<path d="M365.6,156.7 L364.0,161.5 L368.8,166.3 L372.4,172.0 L376.5,178.0 L378.5,183.0 L380.1,187.2 L385.8,191.0 L388.7,196.7"/>
<path d="M406.7,167.0 L406.5,175.0 L405.7,188.0 L406.0,195.7"/>
<path d="M447.6,131.4 L448.6,136.2 L450.5,143.8 L453.3,151.4 L456.0,158.0 L457.2,166.2"/>
<path d="M427.0,124.0 L427.6,125.7 L430.5,136.2 L428.6,141.9 L433.3,145.7 L435.5,151.0 L438.1,156.0 L441.9,160.5 L444.8,162.4 L454.4,165.3 L457.2,166.2 L465.8,169.1 L473.4,168.1 L479.2,169.1 L481.1,174.8 L480.1,182.4 L478.8,189.9"/>
<path d="M357.2,215.8 L357.8,218.3 L355.6,227.2 L352.2,232.8 L344.4,235.0 L335.6,236.1 L331.1,238.3"/>
<path d="M320.5,218.5 L321.1,227.2 L322.2,236.1 L324.4,240.6 L331.1,238.3"/>
</g>
</g></g>
<g fill="#cacaca">
<polygon points="307.9,234.3 306.4,231.4 307.1,227.9 308.6,225.0 311.4,222.9 315.7,221.4 318.6,220.0 320.0,216.4 322.9,214.3 327.1,213.6 330.7,212.9 333.6,211.4 335.7,207.9 337.9,202.1 339.3,199.3 340.0,195.0 339.0,191.4 337.5,183.8 335.2,176.2 334.9,170.5 337.1,163.8 341.0,157.1 344.8,151.4 348.6,144.8 350.5,157.0 351.4,168.6 352.4,178.0 357.1,185.7 357.6,190.2 350.6,195.5 347.5,198.8 344.3,202.0 342.4,205.8 340.5,209.6 338.0,212.1 334.2,215.3 330.4,217.2 325.9,216.6 324.0,217.8 322.8,221.6 319.6,223.6 316.4,224.8 313.9,225.5 311.3,225.5 309.4,227.4 308.8,229.9" stroke="#707070" stroke-width="0.6"/>
<g mask="url(#mhb)">
<polygon points="496.9,118.7 499.3,124.3 502.5,125.0 506.4,126.7 507.2,132.2 506.4,137.0 507.2,141.7 508.8,144.9 510.4,149.7 511.2,154.8 509.6,162.7 508.0,170.6 506.4,175.4 505.6,181.7 505.0,188.0 510.0,186.5 516.8,179.0 515.7,174.9 517.0,166.0 517.0,157.1 515.7,152.0 518.2,147.0 517.0,144.4 513.1,138.1 510.6,133.0 508.1,127.9 505.5,122.8 501.7,119.0 497.9,116.5"/>
<polygon points="457.5,196.0 466.0,194.5 474.0,194.0 476.0,200.0 474.0,208.0 470.0,214.0 464.0,212.0 459.0,206.0"/>
<polygon points="505.5,181.0 512.0,180.0 518.0,183.5 523.5,191.0 521.0,196.0 512.0,195.5 506.0,191.0"/>
<path d="M428,181 L436,178 L446,177 L450,181" fill="none" stroke="#cacaca" stroke-width="3" stroke-linecap="round"/>
</g>
<polygon points="456.4,207.8 461.5,206.5 464.0,210.3 465.3,215.4 468.5,219.5 474.0,218.2 478.0,220.5 472.0,221.5 465.3,222.5 460.2,222.8 457.7,220.5 457.7,215.4 457.1,211.6"/>
<polygon points="402.0,119.0 405.0,118.8 406.5,123.0 406.5,128.0 405.5,131.5 403.0,131.0 401.5,127.0 401.5,122.0"/>
<path d="M411,122.5 L417,130 L423.5,138.5" fill="none" stroke="#cacaca" stroke-width="2.4" stroke-linecap="round"/>
</g>
<g fill="none" stroke="#3c3a1c" stroke-width="0.85" stroke-linejoin="round" opacity="0.9">
<path d="M362.0,133.4 L363.8,134.8 L366.0,135.5 L368.0,136.6 L370.3,137.2 L372.4,138.1 L375.1,138.0 L377.7,138.4 L380.4,138.6 L382.9,138.5 L385.5,138.9 L388.0,138.6 L392.0,137.6 L395.1,137.1 L398.2,137.0 L400.6,137.3 L402.9,137.8 L405.3,138.0 L408.5,138.2 L411.7,137.6 L415.5,139.3 L417.4,140.6 L419.3,141.8 L422.1,141.0 L424.9,141.2 L427.6,141.9"/>
<path d="M392.6,118.5 L392.6,120.9 L391.4,123.2 L391.1,125.6 L391.0,128.0 L390.9,130.4 L390.3,132.8 L389.9,135.2 L389.5,137.6 L389.1,140.4 L388.7,143.2 L388.7,146.0 L389.2,148.9 L389.4,151.7 L389.0,154.6 L389.1,157.2 L390.1,159.6 L390.2,162.2 L391.0,164.7 L392.0,167.0 L392.0,169.6 L392.4,172.0 L391.6,174.4 L391.5,177.1 L390.6,179.5 L389.9,181.8 L389.7,184.3 L390.4,186.8 L389.6,189.1 L389.8,191.7 L389.0,194.2 L388.7,196.7"/>
<path d="M364.8,135.3 L364.0,137.7 L363.8,140.4 L364.0,143.0 L364.8,145.6 L364.9,148.9 L364.0,152.0 L365.2,154.2 L365.6,156.7 L367.8,158.2 L370.4,159.1 L373.6,159.0 L376.7,158.3 L379.4,157.7 L382.0,156.6 L384.7,156.0 L387.1,155.3 L389.4,154.4 L392.6,154.9 L395.8,155.2 L398.4,156.2 L401.0,157.0 L402.5,158.8 L403.3,161.0 L404.5,162.9 L405.3,165.1 L406.7,167.0 L408.8,168.5 L411.4,169.0 L413.6,169.9 L416.0,169.8 L418.3,170.1 L420.6,170.3 L422.9,171.0 L424.7,172.6 L426.2,174.5 L427.2,176.7 L428.6,178.6"/>
<path d="M414.4,141.0 L415.3,143.5 L415.6,146.1 L416.3,148.6 L417.4,150.9 L418.1,153.4 L419.1,155.9 L420.2,158.2 L421.9,159.8 L423.2,161.7 L424.0,163.9 L425.7,166.2 L428.0,168.0 L428.4,170.6 L428.6,173.3 L427.9,176.0 L428.6,178.6 L428.6,181.5 L428.6,184.4 L428.2,186.8 L428.6,189.1 L428.4,191.5 L428.6,193.8 L428.5,196.8 L427.6,199.6 L427.5,202.2 L427.2,204.8 L427.6,207.4 L427.6,210.0"/>
<path d="M365.6,156.7 L365.1,159.2 L364.0,161.5 L365.9,162.8 L367.3,164.6 L368.8,166.3 L370.3,168.0 L371.6,169.8 L372.4,172.0 L373.9,173.9 L374.8,176.3 L376.5,178.0 L377.2,180.6 L378.5,183.0 L379.0,185.2 L380.1,187.2 L382.2,188.2 L383.9,189.8 L385.8,191.0 L387.5,193.7 L388.7,196.7"/>
<path d="M406.7,167.0 L406.5,169.7 L406.3,172.3 L406.5,175.0 L406.0,177.6 L405.7,180.2 L405.8,182.8 L405.4,185.4 L405.7,188.0 L406.3,190.5 L405.9,193.1 L406.0,195.7"/>
<path d="M436.2,118.1 L437.6,119.9 L439.1,121.6 L441.0,122.9 L442.4,125.7 L443.8,128.6 L445.9,129.8 L447.6,131.4 L450.4,130.4 L453.3,130.5 L455.5,131.0 L457.8,131.1 L460.0,131.4 L462.7,133.1 L465.7,134.3 L467.5,132.9 L469.7,132.0 L471.4,130.5 L474.2,129.3 L477.1,128.6 L479.6,128.5 L481.9,127.9 L484.3,127.1 L486.7,126.7 L489.1,126.7 L491.4,126.9 L493.8,126.4 L496.2,126.7 L500.0,128.6 L503.3,128.1 L506.5,127.5"/>
<path d="M447.6,131.4 L448.3,133.8 L448.6,136.2 L449.6,138.6 L449.7,141.3 L450.5,143.8 L451.9,146.2 L452.3,148.9 L453.3,151.4 L454.3,153.5 L455.6,155.6 L456.0,158.0 L456.4,160.7 L457.3,163.4 L457.2,166.2"/>
<path d="M479.2,169.1 L478.4,166.3 L478.2,163.4 L478.7,160.6 L477.7,157.8 L478.1,155.0 L479.5,153.3 L480.1,151.1 L481.5,149.3 L482.9,147.6 L485.7,146.8 L487.8,144.8 L490.5,143.8 L492.9,143.7 L495.2,143.3 L497.6,143.1 L500.0,142.9 L502.8,143.6 L505.7,144.0 L508.5,145.0"/>
<path d="M427.0,124.0 L427.6,125.7 L428.4,128.3 L429.2,130.9 L430.2,133.5 L430.5,136.2 L429.2,138.9 L428.6,141.9 L431.3,143.4 L433.3,145.7 L434.4,148.4 L435.5,151.0 L436.4,153.7 L438.1,156.0 L440.4,158.0 L441.9,160.5 L444.8,162.4 L447.2,163.2 L449.6,164.0 L452.1,164.1 L454.4,165.3 L457.2,166.2 L459.4,166.8 L461.4,167.9 L463.7,168.3 L465.8,169.1 L468.4,169.0 L470.8,168.1 L473.4,168.1 L476.3,168.3 L479.2,169.1 L480.6,171.8 L481.1,174.8 L480.8,177.3 L480.0,179.8 L480.1,182.4 L479.6,184.9 L478.9,187.3 L478.8,189.9"/>
<path d="M444.8,162.4 L446.2,164.8 L447.7,167.2 L448.2,170.0 L448.6,172.9 L450.0,174.9 L451.5,176.7 L452.8,179.8 L453.4,183.0 L452.2,186.0 L451.6,189.1"/>
<path d="M478.8,189.9 L481.7,190.2 L484.6,190.7 L487.0,191.6 L489.5,192.4 L491.7,194.8 L494.5,196.5 L496.6,198.1 L498.6,199.8 L499.4,203.1 L497.8,204.8 L496.1,206.4 L494.5,208.1 L493.1,210.4 L491.2,212.2 L489.0,213.3 L486.7,214.3 L484.6,215.5 L482.0,216.0 L479.6,217.1 L478.7,219.4 L477.1,221.3 L478.0,223.7"/>
<path d="M489.5,192.4 L492.0,192.0 L494.5,191.6 L496.6,192.6 L498.8,193.4 L501.1,194.0 L503.3,191.6 L506.0,189.9 L508.1,188.8 L510.4,188.7 L512.6,188.3 L514.6,186.4 L517.2,185.2 L519.2,183.3"/>
<path d="M428.6,199.6 L429.1,197.4 L430.2,195.4 L431.0,193.2 L431.5,191.0 L434.4,191.0 L437.1,189.9 L440.0,189.9 L442.1,188.8 L444.3,187.9 L446.6,187.4 L449.2,188.0 L451.6,189.1 L452.6,191.3 L454.0,193.2 L456.5,196.5 L458.7,195.8 L460.9,196.0 L463.1,195.7 L465.2,194.8 L467.4,194.3 L469.7,194.0 L471.9,192.8 L474.3,192.1 L476.3,190.7 L478.8,189.9"/>
<path d="M456.5,196.5 L458.6,198.5 L460.0,201.0 L458.8,203.4 L458.0,206.0 L459.0,210.0"/>
<path d="M388.7,196.7 L391.2,196.7 L393.3,195.2 L395.8,195.5 L398.1,194.8 L400.8,194.7 L403.3,195.9 L406.0,195.7 L408.2,195.2 L410.4,196.1 L412.7,195.9 L414.9,196.1 L417.1,195.7 L418.7,197.4 L421.1,198.0 L422.9,199.5 L424.1,202.2 L425.0,205.0 L426.1,207.6 L427.6,210.0"/>
<path d="M388.7,196.7 L387.4,199.6 L385.8,202.4 L384.4,204.4 L382.9,206.3 L380.7,207.3 L378.5,208.2 L376.3,209.1 L373.8,209.8 L371.1,210.2 L368.6,211.0 L366.2,212.2 L363.5,212.8 L361.0,213.9 L357.2,215.8"/>
<path d="M382.9,206.3 L383.2,208.8 L383.2,211.4 L383.9,213.9 L384.0,216.6 L385.4,218.9 L385.8,221.5 L385.8,224.4 L386.2,227.2 L386.8,230.0 L386.6,232.8 L387.2,235.5 L386.7,238.3 L386.7,241.2 L385.6,243.9"/>
<path d="M385.8,211.0 L388.4,211.0 L390.8,211.8 L393.4,212.0 L395.8,212.0 L398.2,212.1 L400.6,212.7 L403.0,212.9 L405.4,212.4 L407.7,211.9 L410.1,211.4 L412.5,211.0 L414.9,210.5 L417.3,210.3 L419.7,210.5 L422.1,210.1 L424.8,209.9 L427.6,210.0"/>
<path d="M385.8,221.5 L387.8,225.0 L389.9,226.3 L392.2,227.2 L394.5,227.1 L396.7,226.5 L398.9,226.1 L401.1,225.7 L403.3,225.3 L405.6,225.0 L406.8,227.5 L408.9,229.4 L411.7,230.3 L414.4,231.7 L416.6,231.0 L418.9,230.9 L421.2,230.6 L423.5,230.6"/>
<path d="M408.9,229.4 L407.7,231.5 L407.2,233.8 L406.7,236.1 L405.3,238.2 L404.4,240.6 L403.6,242.7 L403.9,245.0 L403.3,247.2 L402.6,249.4 L402.2,251.7 L401.2,253.8 L401.1,256.1 L400.0,258.2 L399.6,260.5 L398.9,262.8 L398.9,265.1 L398.3,267.2 L397.8,269.4"/>
<path d="M360.0,243.9 L362.3,243.9 L364.4,244.8 L366.7,245.0 L368.9,244.8 L371.1,244.2 L373.3,243.9 L376.0,242.5 L378.9,241.7 L381.5,243.1 L384.4,243.9 L385.8,246.8 L387.8,249.4 L390.0,251.3 L392.2,253.1 L394.4,255.0 L396.7,255.1 L399.0,255.2 L401.1,256.1"/>
<path d="M357.2,215.8 L357.8,218.3 L356.8,220.4 L357.1,222.8 L356.7,225.1 L355.6,227.2 L353.4,229.7 L352.2,232.8 L349.7,233.9 L347.1,234.7 L344.4,235.0 L342.2,235.1 L340.0,235.7 L337.7,235.4 L335.6,236.1 L333.5,237.5 L331.1,238.3"/>
<path d="M352.2,232.8 L352.9,235.0 L354.0,237.0 L355.2,239.0 L357.1,240.6 L357.8,242.8 L358.8,245.0 L360.0,247.2 L359.3,250.1 L358.5,253.0"/>
<path d="M320.5,218.5 L320.5,221.4 L320.5,224.3 L321.1,227.2 L321.7,229.4 L321.1,231.7 L322.3,233.8 L322.2,236.1 L323.1,238.4 L324.4,240.6 L326.5,239.4 L329.0,239.3 L331.1,238.3"/>
<path d="M341.5,159.1 L343.8,159.0 L346.1,159.6 L348.5,159.5 L350.8,159.1"/>
<path d="M337.6,187.0 L340.0,187.3 L342.4,186.7 L344.9,186.7 L347.3,187.1 L349.7,186.5 L352.1,187.3 L354.6,187.3 L357.0,187.0"/>
<path d="M339.3,199.7 L342.2,199.9 L345.1,199.9 L348.0,199.7"/>
</g>
<polygon points="465.9,82.9 471.7,82.6 478.1,82.1 478.6,85.3 478.1,90.0 482.0,94.8 484.4,100.4 487.6,105.2 489.0,107.6 490.8,111.5 494.8,115.5 497.9,116.5 501.7,119.0 505.5,122.8 508.1,127.9 510.6,133.0 513.1,138.1 517.0,144.4 518.2,147.0 515.7,152.0 517.0,157.1 517.0,166.0 515.7,174.9 517.2,180.2 520.4,185.2 524.8,191.6 522.3,195.4 520.4,199.2 519.8,203.0 519.1,208.1 520.0,213.3 517.8,218.9 512.2,222.2 505.6,224.4 497.8,226.7 490.0,226.7 483.3,224.4 478.9,221.1 474.4,217.8 468.9,218.9 463.3,220.0 457.8,222.2 454.4,224.4 448.9,228.9 442.2,229.6 436.7,225.6 432.2,220.0 426.7,217.8 424.4,220.0 423.3,224.8 422.5,229.5 424.1,232.7 423.3,237.5 421.7,241.4 420.2,245.4 421.0,249.4 420.2,254.9 418.6,260.5 414.6,264.4 409.0,266.0 405.1,267.6 399.5,269.2 390.7,268.1 384.5,271.2 376.3,272.3 368.0,271.2 360.8,272.3 358.8,270.2 357.7,263.0 356.7,256.8 353.6,252.7 347.4,250.6 341.2,248.6 335.0,247.5 328.9,248.6 326.8,252.7 325.8,262.0 323.7,260.9 318.6,258.9 313.3,255.2 310.5,251.4 309.5,245.7 307.6,241.0 306.7,238.1 307.9,234.3 306.4,231.4 307.1,227.9 308.6,225.0 311.4,222.9 315.7,221.4 318.6,220.0 320.0,216.4 322.9,214.3 327.1,213.6 330.7,212.9 333.6,211.4 335.7,207.9 337.9,202.1 339.3,199.3 340.0,195.0 339.0,191.4 337.5,183.8 335.2,176.2 334.9,170.5 337.1,163.8 341.0,157.1 344.8,151.4 348.6,144.8 349.8,143.3 352.2,141.0 355.4,137.8 359.4,133.8 361.7,131.4 365.7,130.6 370.5,129.0 374.4,125.9 377.6,121.1 380.8,119.5 382.9,118.6 388.6,117.9 392.9,117.9 395.0,116.4 397.1,113.6 400.0,112.9 402.9,113.6 405.0,115.0 406.4,113.6 407.9,111.4 410.0,110.0 412.1,111.4 414.3,115.0 415.7,119.3 417.9,124.3 420.0,127.1 422.9,126.7 425.7,125.7 429.3,122.9 433.6,121.4 435.7,118.6 438.6,117.1 440.8,117.0 442.9,115.0 444.8,112.3 446.3,108.3 450.0,106.8 455.0,103.5 458.5,99.5 461.0,95.5 463.8,90.9 465.4,87.7" fill="none" stroke="#505050" stroke-width="0.7"/>
<rect x="279.5" y="21.5" width="251" height="273.5" fill="none" class="k"/>
<text x="291.70" y="37.30" class="lt" textLength="29.2" lengthAdjust="spacingAndGlyphs">C factor</text>
<rect x="291.3" y="45.30" width="17" height="7.7" fill="#08640a"/>
<text x="310.30" y="52.10" class="lg" textLength="23.87" lengthAdjust="spacingAndGlyphs" style="font-size:7.2px">0.1-0.15</text>
<rect x="291.3" y="56.05" width="17" height="7.7" fill="#5c9b12"/>
<text x="310.30" y="62.85" class="lg" textLength="27.57" lengthAdjust="spacingAndGlyphs" style="font-size:7.2px">0.15-0.18</text>
<rect x="291.3" y="66.80" width="17" height="7.7" fill="#c8e10a"/>
<text x="310.30" y="73.60" class="lg" textLength="27.1" lengthAdjust="spacingAndGlyphs" style="font-size:7.2px">0.18-0.21</text>
<rect x="291.3" y="77.55" width="17" height="7.7" fill="#ffd700"/>
<text x="310.30" y="84.35" class="lg" textLength="27.57" lengthAdjust="spacingAndGlyphs" style="font-size:7.2px">0.21-0.25</text>
<rect x="291.3" y="88.30" width="17" height="7.7" fill="#ff8c00"/>
<text x="310.30" y="95.10" class="lg" textLength="23.87" lengthAdjust="spacingAndGlyphs" style="font-size:7.2px">0.25-0.3</text>
<rect x="291.3" y="99.05" width="17" height="7.7" fill="#ff2800"/>
<text x="310.30" y="105.85" class="lg" textLength="20.35" lengthAdjust="spacingAndGlyphs" style="font-size:7.2px">0.3-0.6</text>
<rect x="291.3" y="109.80" width="17" height="7.7" fill="#cbcbcb"/>
<text x="310.30" y="116.60" class="lg" textLength="58.18" lengthAdjust="spacingAndGlyphs" style="font-size:7.2px">Non-erosive lands</text>
<rect x="291.70000000000005" y="120.85" width="16.2" height="7.2" fill="#fff" stroke="#333" stroke-width="0.7"/>
<text x="310.30" y="127.35" class="lg" textLength="60.31" lengthAdjust="spacingAndGlyphs" style="font-size:7.2px">District boundaries</text>
<text x="511.5" y="39.2" text-anchor="middle" class="na">N</text>
<path d="M511.4,41.300000000000004 L506.0,58.6 L511.4,53.7 Z" fill="#000"/>
<path d="M511.4,41.300000000000004 L516.9,58.7 L511.4,53.7 Z" fill="#fff" stroke="#000" stroke-width="0.6"/>
<rect x="422.1" y="271.8" width="86.8" height="4.1" fill="#000"/>
<rect x="451.5" y="272.5" width="28.5" height="2.7" fill="#fff"/>
<text x="422.40000000000003" y="286.3" text-anchor="middle" class="sc">0</text>
<text x="437.40000000000003" y="286.3" text-anchor="middle" class="sc">15</text>
<text x="451.0" y="286.3" text-anchor="middle" class="sc">30</text>
<text x="480.0" y="286.3" text-anchor="middle" class="sc">60</text>
<text x="508.90000000000003" y="286.3" text-anchor="middle" class="sc">90</text>
<text x="510.90" y="276.00" class="sc" textLength="11.2" lengthAdjust="spacingAndGlyphs">km</text>
<text x="291.60" y="279.30" class="lab" textLength="10.6" lengthAdjust="spacingAndGlyphs">(b)</text>
</svg>
</body></html>
